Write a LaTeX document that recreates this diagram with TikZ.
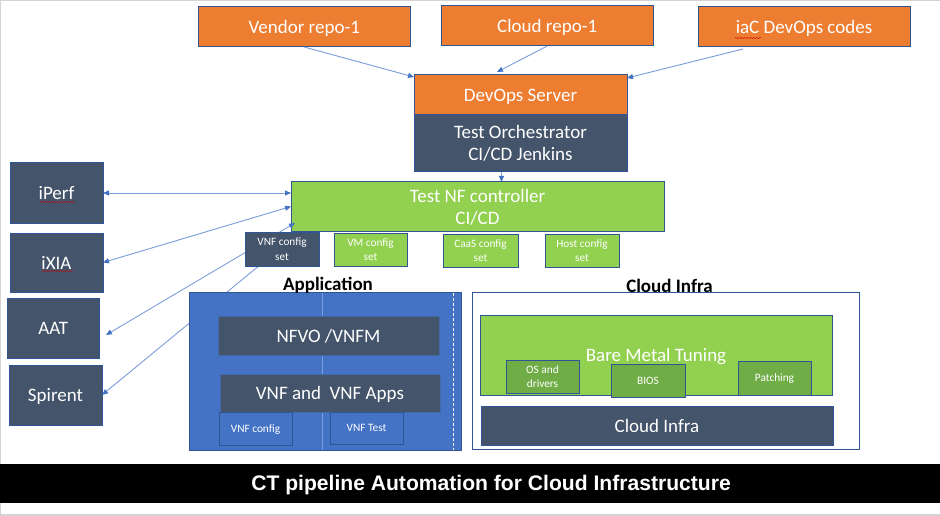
\documentclass[tikz,border=0pt]{standalone}
\usepackage{fontspec}
\setmainfont{Carlito}
\newfontfamily\barfont{Liberation Sans}
\usetikzlibrary{arrows.meta,decorations.pathmorphing}
\definecolor{cOrange}{HTML}{ED7D31}
\definecolor{cDark}{HTML}{44546A}
\definecolor{cGreen}{HTML}{92D050}
\definecolor{cGreenD}{HTML}{70AD47}
\definecolor{cBlue}{HTML}{4472C4}
\definecolor{cEdge}{HTML}{2F5597}
\definecolor{cLink}{HTML}{7C9CDA}
\definecolor{cGrey}{HTML}{D4D4D4}
\newcommand{\bx}[7]{%
  \pgfmathsetmacro{\bxw}{#4-#2}\pgfmathsetmacro{\bxh}{#5-#3}%
  \pgfmathsetmacro{\bxx}{(#2+#4)/2}\pgfmathsetmacro{\bxy}{(#3+#5)/2}%
  \node[#6,minimum width=\bxw pt,minimum height=\bxh pt] (#1) at (\bxx,\bxy) {#7};}
\newcommand{\lineB}{\rule[-5pt]{0pt}{23pt}}
\newcommand{\lineS}{\rule[-3.5pt]{0pt}{14pt}}
\tikzset{
  base/.style={draw=cEdge,line width=1pt,inner sep=0pt,outer sep=0pt,text=white,align=center},
  big/.style={base,font=\fontsize{19}{22}\selectfont},
  small/.style={base,font=\fontsize{11.3}{14.5}\selectfont},
  orangebox/.style={big,fill=cOrange},
  darkbox/.style={big,fill=cDark},
  greenbox/.style={big,fill=cGreen},
  darksmall/.style={small,fill=cDark},
  greensmall/.style={small,fill=cGreen},
  bluesmall/.style={small,fill=cBlue},
  tunesmall/.style={small,fill=cGreenD},
  title/.style={font=\fontsize{19}{22}\selectfont\bfseries,text=black,inner sep=0pt},
  link/.style={draw=cLink,line width=0.9pt,-{Triangle[length=6pt,width=5pt,fill=cBlue,color=cBlue]}},
  linkboth/.style={draw=cLink,line width=0.9pt,{Triangle[length=6pt,width=5pt,fill=cBlue,color=cBlue]}-{Triangle[length=6pt,width=5pt,fill=cBlue,color=cBlue]}},
  squiggle/.style={draw=red!80!black,line width=0.45pt,decorate,decoration={snake,amplitude=0.5pt,segment length=3pt}}
}
\begin{document}
\begin{tikzpicture}[x=1pt,y=-1pt]
\useasboundingbox (0,0) rectangle (940,516);
\fill[white] (0,0) rectangle (940,516);
\fill[cGrey] (0,0) rectangle (940,1.2);
\fill[cGrey] (0,0) rectangle (1.2,516);
\fill[cGrey] (0,513.5) rectangle (940,516);
% bottom banner
\bx{banner}{0}{464}{940}{503}{fill=black,inner sep=0pt,outer sep=0pt,text=white,font=\barfont\fontsize{21.1}{24}\selectfont\bfseries}{\hspace*{42pt}\rule[-6.5pt]{0pt}{27.5pt}CT pipeline Automation for Cloud Infrastructure}
% controller first: arrow tips lie over it
\bx{nf}{291}{182}{664}{231}{greenbox}{\rule{0pt}{15pt}Test NF controller\\CI/CD}
% free ends
\coordinate (aatTip) at (106,335);
\coordinate (nfLow) at (295,223);
\coordinate (nfHidden) at (300,232);
\coordinate (vendorIn) at (414,77);
\coordinate (cloudIn) at (497,72);
\coordinate (iacIn) at (627,78);
\coordinate (iacOut) at (743,49);
\coordinate (jenkinsOut) at (501.5,172);
\coordinate (nfTop) at (501.5,182);
% test tools
\bx{iperf}{10}{163}{103}{223}{darkbox}{\lineB iPerf}
\bx{ixia}{10}{233}{103}{292}{darkbox}{\lineB iXIA}
\bx{aat}{7}{298}{99.5}{358}{darkbox}{\lineB AAT}
\bx{spirent}{9}{365}{102}{425}{darkbox}{\lineB Spirent}
% connectors hidden in part by later boxes
\draw[linkboth] (iperf.east) -- (nf.west |- iperf.east);
\draw[linkboth] (ixia.east) -- (nf.west);
\draw[linkboth] (aatTip) -- (nfLow);
\draw[link] (nfHidden) -- (spirent.east);
% application
\bx{app}{189}{292}{461}{450}{draw=cEdge,fill=cBlue,line width=1pt,inner sep=0pt,outer sep=0pt}{}
\draw[cLink,line width=0.8pt] (322,292.5) -- (322,449.5);
\draw[white,line width=0.8pt,dashed,dash pattern=on 3pt off 2pt] (453.5,292.5) -- (453.5,449.5);
\bx{nfvo}{218}{316}{439}{355}{darkbox,draw=cBlue!70!cDark}{\lineB NFVO /VNFM}
\bx{vnf}{220}{374}{440}{412}{darkbox,draw=cBlue!70!cDark}{\lineB VNF and\ \ VNF Apps}
\bx{vnfcfg}{219}{412}{292}{445}{bluesmall}{\lineS VNF config}
\bx{vnftest}{330}{412}{403}{444}{bluesmall}{\lineS VNF Test}
\node[title] (apptitle) at (328,285.5) {Application};
% config sets
\bx{vnfset}{245}{232}{319}{266}{darksmall}{VNF config\\set}
\bx{vmset}{334}{233}{407}{266}{greensmall}{VM config\\set}
\bx{caasset}{443}{234}{518}{267}{greensmall}{CaaS config\\set}
\bx{hostset}{545}{234}{619}{267}{greensmall}{Host config\\set}
% cloud infra
\bx{infra}{472}{292}{859}{449}{draw=cEdge,fill=white,line width=1pt,inner sep=0pt,outer sep=0pt}{}
\node[title] (infratitle) at (669.5,285.5) {Cloud Infra};
\bx{bare}{480}{315}{832}{395}{greenbox}{\lineB Bare Metal Tuning}
\bx{os}{506}{360}{579}{393}{tunesmall}{OS and\\drivers}
\bx{bios}{611}{364}{685}{397}{tunesmall}{\lineS BIOS}
\bx{patch}{738}{361}{811}{395}{tunesmall}{\lineS Patching}
\bx{cloudbase}{481}{406}{833}{445}{darkbox}{\lineB Cloud Infra}
% sources and server
\bx{vendor}{198.5}{7}{410}{47}{orangebox}{\lineB Vendor repo-1}
\bx{cloud}{441}{6}{653.5}{46}{orangebox}{\lineB Cloud repo-1}
\bx{iac}{698}{7}{910}{47}{orangebox}{\lineB iaC DevOps codes}
\bx{server}{414}{75}{627}{115}{orangebox}{\lineB DevOps Server}
\bx{orch}{414}{115}{627}{172}{darkbox}{Test Orchestrator\\CI/CD Jenkins}
\draw[link] (vendor.south) -- (vendorIn);
\draw[link] (cloud.south) -- (cloudIn);
\draw[link] (iacOut) -- (iacIn);
\draw[link] (jenkinsOut) -- (nfTop);
% spell-check marks
\draw[squiggle] (40,202) -- (75,202);
\draw[squiggle] (42,271) -- (73,271);
\draw[squiggle] (735,38) -- (761,38);
\end{tikzpicture}
\end{document}
